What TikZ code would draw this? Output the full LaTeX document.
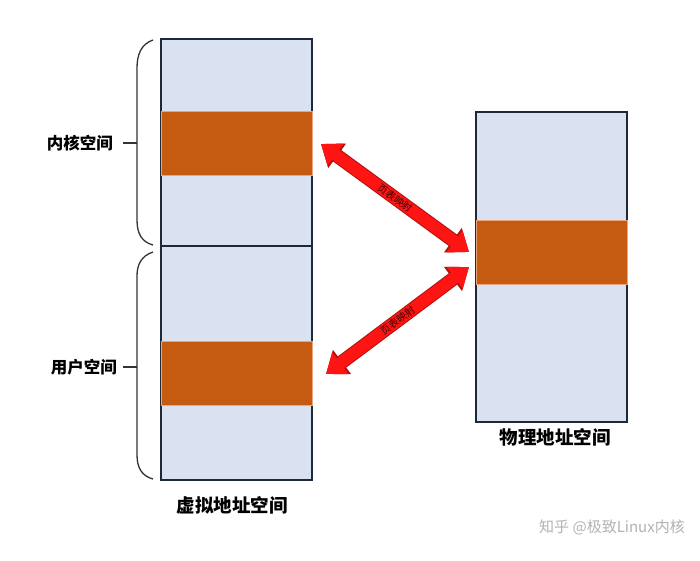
\documentclass[tikz,border=0pt]{standalone}
\usepackage{fontspec}
\newfontfamily\cjk{Noto Sans CJK SC}
\usetikzlibrary{arrows.meta,calc}
\definecolor{boxfill}{HTML}{DAE1F1}
\definecolor{boxline}{HTML}{1E2838}
\definecolor{band}{HTML}{C55A11}
\definecolor{bandedge}{HTML}{EBA37C}
\definecolor{arrowred}{HTML}{FF1414}
\definecolor{arrowedge}{HTML}{B01010}
\definecolor{arrowtxt}{HTML}{3A0505}
\begin{document}
\begin{tikzpicture}[x=1pt,y=-1pt,
  box/.style={draw=boxline, fill=boxfill, line width=1.5pt, inner sep=0pt, anchor=north west},
  bandbox/.style={fill=band, draw=bandedge, line width=1pt, inner sep=0pt, anchor=north west},
  sidelbl/.style={font=\cjk\bfseries\fontsize{16.5}{19}\selectfont, text=black, inner sep=0pt, anchor=east},
  titlelbl/.style={font=\cjk\bfseries\fontsize{18.5}{21}\selectfont, text=black, inner sep=0pt},
  bracepath/.style={draw=black!80, line width=1.3pt},
  arrowtext/.style={font=\cjk\fontsize{10}{10}\selectfont, text=arrowtxt, inner sep=0pt},
  maparrow/.style={line width=12pt, draw=arrowred,
    {Triangle[width=26pt,length=18pt]}-{Triangle[width=26pt,length=18pt]},
    preaction={draw=arrowedge, line width=14pt,
      {Triangle[width=29pt,length=20pt]}-{Triangle[width=29pt,length=20pt]}}}]
\useasboundingbox (0,0) rectangle (700,560);
\fill[white] (0,0) rectangle (700,560);

% virtual address space
\node[box, minimum width=151pt, minimum height=441pt] (vbox) at (160,38) {};
\draw[boxline, line width=2.5pt] (160,246) -- (311,246);
\node[bandbox, minimum width=151pt, minimum height=64pt] (kband) at (161,111) {};
\node[bandbox, minimum width=151pt, minimum height=64pt] (uband) at (161,341) {};

% physical address space
\node[box, minimum width=151pt, minimum height=310pt] (pbox) at (475,111) {};
\node[bandbox, minimum width=151pt, minimum height=64pt] (pband) at (476,220) {};

% braces
\draw[bracepath] (153,40) .. controls (141,44) and (137,55) .. (137,68) -- (137,220)
  .. controls (137,234) and (142,242) .. (153,245);
\draw[bracepath] (153,252) .. controls (141,256) and (137,265) .. (137,276) -- (137,455)
  .. controls (137,468) and (142,476) .. (153,479);

% side labels
\node[sidelbl] (kl) at (113,143) {内核空间};
\node[sidelbl] (ul) at (117,367) {用户空间};
\draw[bracepath] (123,143) -- (137,143);
\draw[bracepath] (123,367) -- (137,367);

% mapping arrows
\coordinate (a1) at (321,144);
\coordinate (b1) at (469,252);
\coordinate (a2) at (469,267);
\coordinate (b2) at (326,374);
\draw[maparrow] (a1) -- (b1) node[midway, sloped, arrowtext] {页表映射};
\draw[maparrow] (b2) -- (a2) node[midway, sloped, arrowtext] {页表映射};

% titles
\node[titlelbl] (vl) at (232,505) {虚拟地址空间};
\node[titlelbl] (pl) at (555,437) {物理地址空间};

% watermark
\node[font=\cjk\fontsize{15}{18}\selectfont, text=black!30, inner sep=0pt] (wm) at (612,527) {知乎 @极致Linux内核};
\end{tikzpicture}
\end{document}
